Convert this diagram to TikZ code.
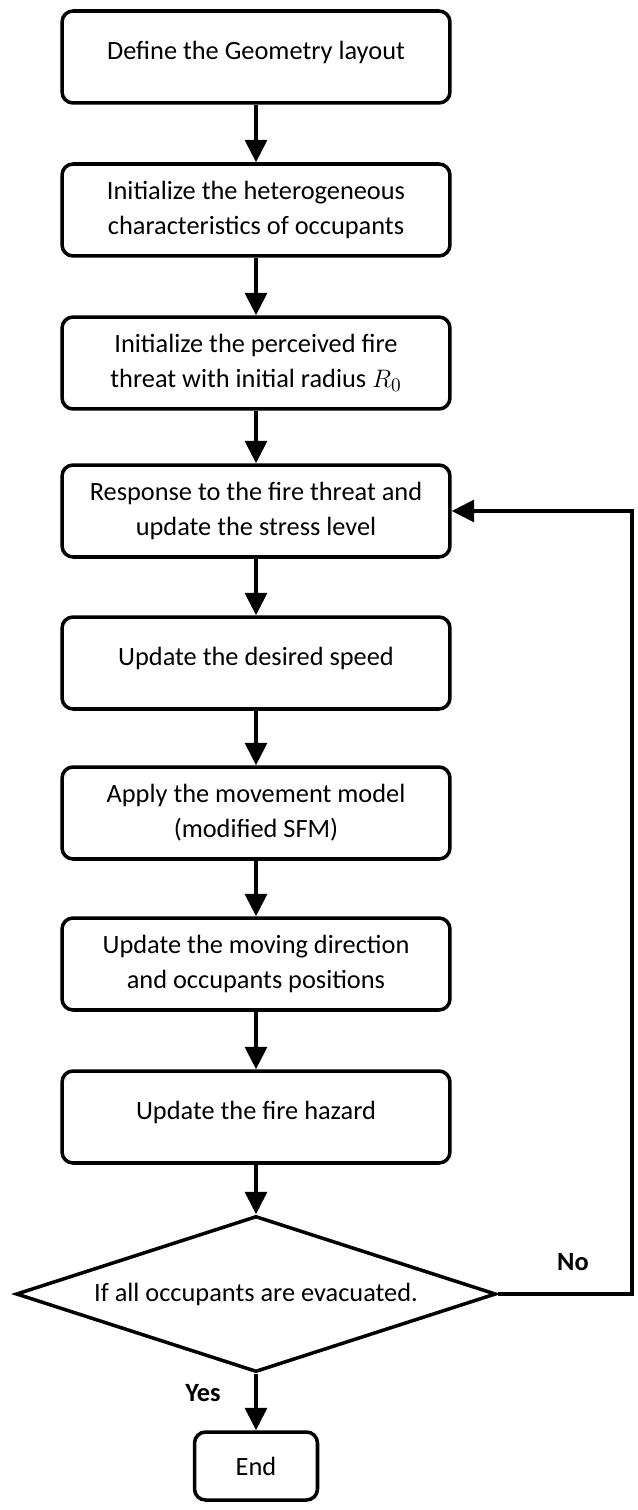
\documentclass[tikz,border=0pt]{standalone}
\usepackage{fontspec}
\setmainfont{Carlito}
\usetikzlibrary{shapes.geometric, arrows.meta, positioning}

\begin{document}
\begin{tikzpicture}[x=0.02cm, y=-0.02cm,
  procbox/.style={draw, line width=2pt, rounded corners=0.22cm, minimum width=7.76cm, minimum height=1.84cm, inner sep=0pt, align=center, font=\fontsize{15}{20}\selectfont},
  onerow/.style={text height=0.4cm, text depth=0.3cm},
  decision/.style={draw, diamond, aspect=3, line width=2pt, minimum width=9.6cm, minimum height=3.12cm, inner sep=0pt, align=center, font=\fontsize{15}{20}\selectfont},
  flowarr/.style={-{Triangle[width=0.44cm, length=0.45cm]}, line width=2pt},
  yesno/.style={font=\fontsize{15}{20}\selectfont\bfseries}]

  \useasboundingbox (0,0) rectangle (638,1510);

  % Set-up steps
  \node[procbox, onerow] (geom) at (256,57) {Define the Geometry layout};
  \node[procbox] (hetero) at (256,210) {Initialize the heterogeneous\\characteristics of occupants};
  \node[procbox] (threat) at (256,363) {Initialize the perceived fire\\threat with initial radius $R_0$};

  % Steps repeated every time step
  \node[procbox] (stress) at (256,511) {Response to the fire threat and\\update the stress level};
  \node[procbox, onerow] (speed) at (256,663) {Update the desired speed};
  \node[procbox] (sfm) at (256,813) {Apply the movement model\\(modified SFM)};
  \node[procbox] (moving) at (256,964) {Update the moving direction\\and occupants positions};
  \node[procbox, onerow] (hazard) at (256,1117) {Update the fire hazard};

  % Check and end
  \node[decision] (check) at (256,1294) {If all occupants are evacuated.};
  \node[procbox, minimum width=2.46cm, minimum height=1.36cm] (stop) at (256,1466) {End};

  % Arrows down the chain
  \draw[flowarr] (geom) -- (hetero);
  \draw[flowarr] (hetero) -- (threat);
  \draw[flowarr] (threat) -- (stress);
  \draw[flowarr] (stress) -- (speed);
  \draw[flowarr] (speed) -- (sfm);
  \draw[flowarr] (sfm) -- (moving);
  \draw[flowarr] (moving) -- (hazard);
  \draw[flowarr] (hazard) -- (check);
  \draw[flowarr] (check) -- (stop);

  % Loop back when not everyone is out
  \coordinate (back) at (632,1294);
  \draw[flowarr] (check.east) -- (back) |- (stress.east);

  \node[yesno] (no) at (573,1262) {No};
  \node[yesno] (yes) at (203,1393) {Yes};
\end{tikzpicture}
\end{document}
